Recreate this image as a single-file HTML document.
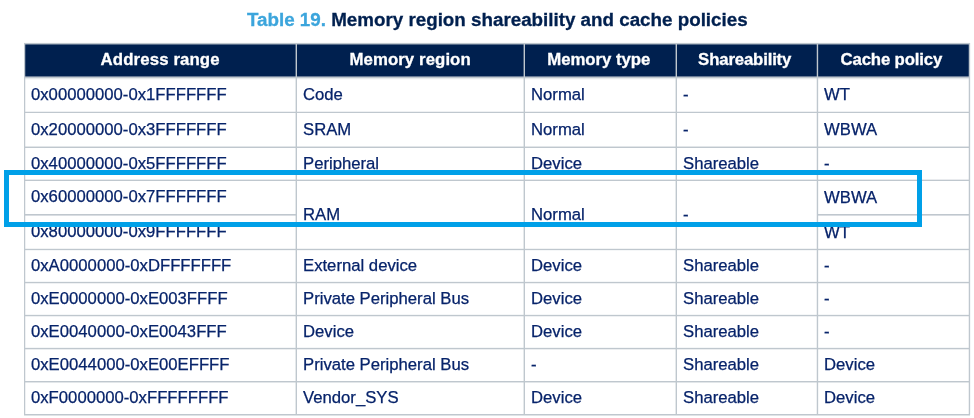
<!DOCTYPE html>
<html><head><meta charset="utf-8"><title>Table 19. Memory region shareability and cache policies</title><style>
html,body{margin:0;padding:0;background:#fff;width:974px;height:418px;overflow:hidden;position:relative}
body{font-family:"Liberation Sans",Arial,Helvetica,sans-serif;}
.l{position:absolute}
.t{position:absolute;font-size:16.7px;color:#07236a;-webkit-text-stroke:0.25px #07236a;white-space:nowrap;line-height:20px;height:20px}
.h{position:absolute;font-size:16.8px;font-weight:bold;color:#fff;-webkit-text-stroke:0.3px #fff;white-space:nowrap;line-height:20px;height:20px;text-align:center}
.hdr{position:absolute;background:#00204f}
.title{position:absolute;left:0.8px;width:993px;top:8.8px;text-align:center;font-size:18.8px;font-weight:bold;color:#00204f;-webkit-text-stroke:0.3px #00204f;white-space:nowrap;line-height:22px}
.title span{color:#3ca5dc;-webkit-text-stroke:0.3px #3ca5dc}
.box{position:absolute;border:5px solid #00a0e8;box-sizing:border-box}
</style></head><body>

<div class="title"><span>Table 19.</span> Memory region shareability and cache policies</div>
<div class="hdr" style="left:24px;top:44px;width:946px;height:32px"></div>
<div class="l" style="left:24px;top:43px;width:946px;height:1px;background:rgba(191,199,206,1.0)"></div>
<div class="l" style="left:24px;top:42px;width:946px;height:1px;background:rgba(191,199,206,0.08)"></div>
<div class="l" style="left:24px;top:44px;width:946px;height:1px;background:rgba(191,199,206,.45)"></div>
<div class="l" style="left:24px;top:76px;width:946px;height:1px;background:#6a7b96"></div>
<div class="l" style="left:24px;top:77px;width:946px;height:1px;background:rgba(191,199,206,1.0)"></div>
<div class="l" style="left:24px;top:78px;width:946px;height:1px;background:rgba(191,199,206,0.4)"></div>
<div class="l" style="left:24px;top:79px;width:946px;height:1px;background:rgba(191,199,206,0.1)"></div>
<div class="l" style="left:24px;top:112px;width:946px;height:1px;background:rgba(191,199,206,1.0)"></div>
<div class="l" style="left:24px;top:111px;width:946px;height:1px;background:rgba(191,199,206,0.25)"></div>
<div class="l" style="left:24px;top:147px;width:946px;height:1px;background:rgba(191,199,206,1.0)"></div>
<div class="l" style="left:24px;top:146px;width:946px;height:1px;background:rgba(191,199,206,0.45)"></div>
<div class="l" style="left:24px;top:180px;width:946px;height:1px;background:rgba(191,199,206,1.0)"></div>
<div class="l" style="left:24px;top:179px;width:946px;height:1px;background:rgba(191,199,206,0.35)"></div>
<div class="l" style="left:24px;top:214px;width:272px;height:1px;background:rgba(191,199,206,1.0)"></div>
<div class="l" style="left:24px;top:215px;width:272px;height:1px;background:rgba(191,199,206,0.6)"></div>
<div class="l" style="left:817px;top:214px;width:153px;height:1px;background:rgba(191,199,206,1.0)"></div>
<div class="l" style="left:817px;top:215px;width:153px;height:1px;background:rgba(191,199,206,0.6)"></div>
<div class="l" style="left:24px;top:249px;width:946px;height:1px;background:rgba(191,199,206,1.0)"></div>
<div class="l" style="left:24px;top:248px;width:946px;height:1px;background:rgba(191,199,206,0.2)"></div>
<div class="l" style="left:24px;top:250px;width:946px;height:1px;background:rgba(191,199,206,0.15)"></div>
<div class="l" style="left:24px;top:282px;width:946px;height:1px;background:rgba(191,199,206,1.0)"></div>
<div class="l" style="left:24px;top:283px;width:946px;height:1px;background:rgba(191,199,206,0.25)"></div>
<div class="l" style="left:24px;top:281px;width:946px;height:1px;background:rgba(191,199,206,0.15)"></div>
<div class="l" style="left:24px;top:315px;width:946px;height:1px;background:rgba(191,199,206,1.0)"></div>
<div class="l" style="left:24px;top:316px;width:946px;height:1px;background:rgba(191,199,206,0.25)"></div>
<div class="l" style="left:24px;top:314px;width:946px;height:1px;background:rgba(191,199,206,0.15)"></div>
<div class="l" style="left:24px;top:348px;width:946px;height:1px;background:rgba(191,199,206,1.0)"></div>
<div class="l" style="left:24px;top:349px;width:946px;height:1px;background:rgba(191,199,206,0.3)"></div>
<div class="l" style="left:24px;top:347px;width:946px;height:1px;background:rgba(191,199,206,0.15)"></div>
<div class="l" style="left:24px;top:381px;width:946px;height:1px;background:rgba(191,199,206,1.0)"></div>
<div class="l" style="left:24px;top:382px;width:946px;height:1px;background:rgba(191,199,206,0.45)"></div>
<div class="l" style="left:24px;top:414px;width:946px;height:1px;background:rgba(191,199,206,1.0)"></div>
<div class="l" style="left:24px;top:415px;width:946px;height:1px;background:rgba(191,199,206,0.5)"></div>
<div class="l" style="left:24px;top:43px;width:1px;height:372px;background:rgba(191,199,206,1.0)"></div>
<div class="l" style="left:25px;top:43px;width:1px;height:372px;background:rgba(191,199,206,0.25)"></div>
<div class="l" style="left:296px;top:43px;width:1px;height:372px;background:rgba(191,199,206,1.0)"></div>
<div class="l" style="left:295px;top:43px;width:1px;height:372px;background:rgba(191,199,206,0.4)"></div>
<div class="l" style="left:524px;top:43px;width:1px;height:372px;background:rgba(191,199,206,1.0)"></div>
<div class="l" style="left:523px;top:43px;width:1px;height:372px;background:rgba(191,199,206,0.4)"></div>
<div class="l" style="left:676px;top:43px;width:1px;height:372px;background:rgba(191,199,206,1.0)"></div>
<div class="l" style="left:675px;top:43px;width:1px;height:372px;background:rgba(191,199,206,0.4)"></div>
<div class="l" style="left:817px;top:43px;width:1px;height:372px;background:rgba(191,199,206,1.0)"></div>
<div class="l" style="left:816px;top:43px;width:1px;height:372px;background:rgba(191,199,206,0.25)"></div>
<div class="l" style="left:818px;top:43px;width:1px;height:372px;background:rgba(191,199,206,0.15)"></div>
<div class="l" style="left:969px;top:43px;width:1px;height:372px;background:rgba(191,199,206,1.0)"></div>
<div class="l" style="left:968px;top:43px;width:1px;height:372px;background:rgba(191,199,206,0.25)"></div>
<div class="l" style="left:970px;top:43px;width:1px;height:372px;background:rgba(191,199,206,0.15)"></div>
<div class="h" style="left:24.16px;width:272px;top:50px;letter-spacing:0.12px">Address range</div>
<div class="h" style="left:296.14000000000004px;width:228px;top:50px;letter-spacing:0.08px">Memory region</div>
<div class="h" style="left:522.785px;width:152px;top:50px;letter-spacing:-0.03px">Memory type</div>
<div class="h" style="left:674.165px;width:141px;top:50px;letter-spacing:-0.17px">Shareability</div>
<div class="h" style="left:815.3149999999999px;width:152px;top:50px;letter-spacing:-0.17px">Cache policy</div>
<div class="t" style="left:31px;top:84.7px">0x00000000-0x1FFFFFFF</div>
<div class="t" style="left:303px;top:84.7px">Code</div>
<div class="t" style="left:531px;top:84.7px">Normal</div>
<div class="t" style="left:683px;top:84.7px">-</div>
<div class="t" style="left:824px;top:84.7px">WT</div>
<div class="t" style="left:31px;top:120.2px">0x20000000-0x3FFFFFFF</div>
<div class="t" style="left:303px;top:120.2px">SRAM</div>
<div class="t" style="left:531px;top:120.2px">Normal</div>
<div class="t" style="left:683px;top:120.2px">-</div>
<div class="t" style="left:824px;top:120.2px">WBWA</div>
<div class="t" style="left:31px;top:154.2px">0x40000000-0x5FFFFFFF</div>
<div class="t" style="left:303px;top:154.2px">Peripheral</div>
<div class="t" style="left:531px;top:154.2px">Device</div>
<div class="t" style="left:683px;top:154.2px">Shareable</div>
<div class="t" style="left:824px;top:154.2px">-</div>
<div class="t" style="left:31px;top:187.2px">0x60000000-0x7FFFFFFF</div>
<div class="t" style="left:824px;top:188.2px">WBWA</div>
<div class="t" style="left:31px;top:221.7px">0x80000000-0x9FFFFFFF</div>
<div class="t" style="left:824px;top:222.7px">WT</div>
<div class="t" style="left:31px;top:256.2px">0xA0000000-0xDFFFFFFF</div>
<div class="t" style="left:303px;top:256.2px">External device</div>
<div class="t" style="left:531px;top:256.2px">Device</div>
<div class="t" style="left:683px;top:256.2px">Shareable</div>
<div class="t" style="left:824px;top:256.2px">-</div>
<div class="t" style="left:31px;top:289.2px">0xE0000000-0xE003FFFF</div>
<div class="t" style="left:303px;top:289.2px">Private Peripheral Bus</div>
<div class="t" style="left:531px;top:289.2px">Device</div>
<div class="t" style="left:683px;top:289.2px">Shareable</div>
<div class="t" style="left:824px;top:289.2px">-</div>
<div class="t" style="left:31px;top:322.2px">0xE0040000-0xE0043FFF</div>
<div class="t" style="left:303px;top:322.2px">Device</div>
<div class="t" style="left:531px;top:322.2px">Device</div>
<div class="t" style="left:683px;top:322.2px">Shareable</div>
<div class="t" style="left:824px;top:322.2px">-</div>
<div class="t" style="left:31px;top:355.2px">0xE0044000-0xE00EFFFF</div>
<div class="t" style="left:303px;top:355.2px">Private Peripheral Bus</div>
<div class="t" style="left:531px;top:355.2px">-</div>
<div class="t" style="left:683px;top:355.2px">Shareable</div>
<div class="t" style="left:824px;top:355.2px">Device</div>
<div class="t" style="left:31px;top:388.2px">0xF0000000-0xFFFFFFFF</div>
<div class="t" style="left:303px;top:388.2px">Vendor_SYS</div>
<div class="t" style="left:531px;top:388.2px">Device</div>
<div class="t" style="left:683px;top:388.2px">Shareable</div>
<div class="t" style="left:824px;top:388.2px">Device</div>
<div class="t" style="left:303px;top:205.2px">RAM</div>
<div class="t" style="left:531px;top:205.2px">Normal</div>
<div class="t" style="left:683px;top:205.2px">-</div>
<div class="box" style="left:4px;top:170px;width:918px;height:57px"></div>
</body></html>
